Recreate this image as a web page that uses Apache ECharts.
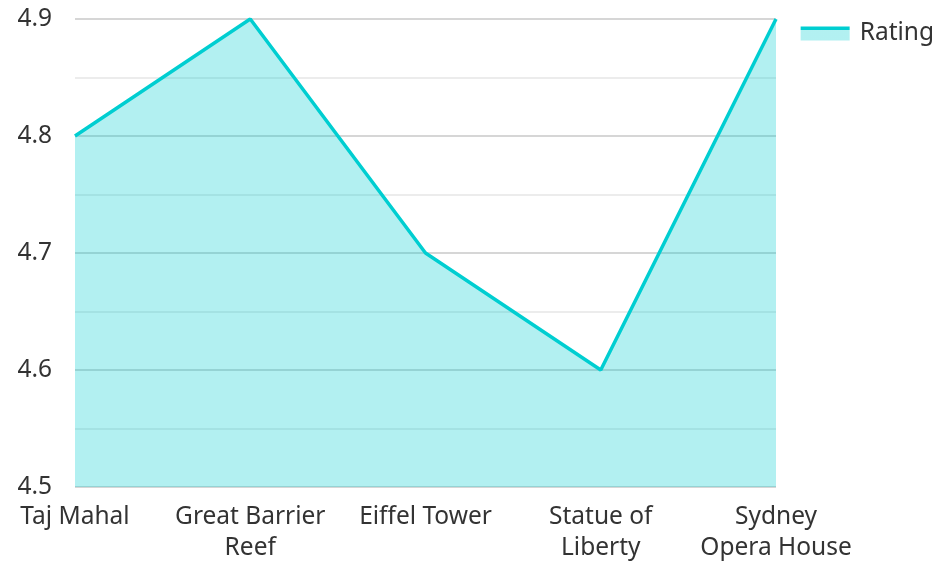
<!DOCTYPE html>
<html>
<head>
<meta charset="utf-8">
<script src="https://cdn.jsdelivr.net/npm/echarts@6/dist/echarts.min.js"></script>
<style>
  html, body { margin: 0; padding: 0; background: #fff; }
  #chart { width: 936px; height: 562px; }
</style>
</head>
<body>
<div id="chart"></div>
<script>
  var places = ['Taj Mahal', 'Great Barrier\nReef', 'Eiffel Tower', 'Statue of\nLiberty', 'Sydney\nOpera House'];
  var ratings = [4.8, 4.9, 4.7, 4.6, 4.9];

  var myChart = echarts.init(document.getElementById('chart'));
  var option = {
    textStyle: { fontFamily: 'Noto Sans' },
    animation: false,
    grid: { left: 75, right: 160, top: 19, bottom: 75, outerBoundsMode: 'none', containLabel: false },
    legend: {
      data: ['Rating'],
      right: 2,
      top: 21,
      padding: 0,
      icon: 'rect',
      itemWidth: 49,
      itemHeight: 14,
      itemGap: 10,
      itemStyle: {
        color: {
          type: 'linear', x: 0, y: 0, x2: 0, y2: 1,
          colorStops: [
            { offset: 0, color: '#00CED1' },
            { offset: 0.28, color: '#00CED1' },
            { offset: 0.28, color: 'rgba(0,206,209,0.3)' },
            { offset: 1, color: 'rgba(0,206,209,0.3)' }
          ]
        }
      },
      textStyle: { fontSize: 24.5, color: '#333', padding: [0, 0, 0, 5] }
    },
    xAxis: {
      type: 'category',
      boundaryGap: false,
      data: places,
      axisLine: { show: false },
      axisTick: { show: false },
      axisLabel: { interval: 0, fontSize: 24.5, color: '#333', lineHeight: 31, margin: 15 }
    },
    yAxis: {
      type: 'value',
      min: 4.5,
      max: 4.9,
      interval: 0.1,
      axisLine: { show: false },
      axisTick: { show: false },
      axisLabel: { fontSize: 24.5, color: '#333', margin: 23, formatter: function (v) { return v.toFixed(1); } },
      splitLine: { show: true, lineStyle: { color: '#c8c8c8', width: 1.5 } },
      minorTick: { show: false, splitNumber: 2 },
      minorSplitLine: { show: true, lineStyle: { color: '#e6e6e6', width: 1.5 } }
    },
    series: [{
      name: 'Rating',
      type: 'line',
      data: ratings,
      symbol: 'none',
      lineStyle: { color: '#00CED1', width: 3.5 },
      itemStyle: { color: '#00CED1' },
      areaStyle: { color: '#00CED1', opacity: 0.3 }
    }]
  };
  myChart.setOption(option);
</script>
</body>
</html>
